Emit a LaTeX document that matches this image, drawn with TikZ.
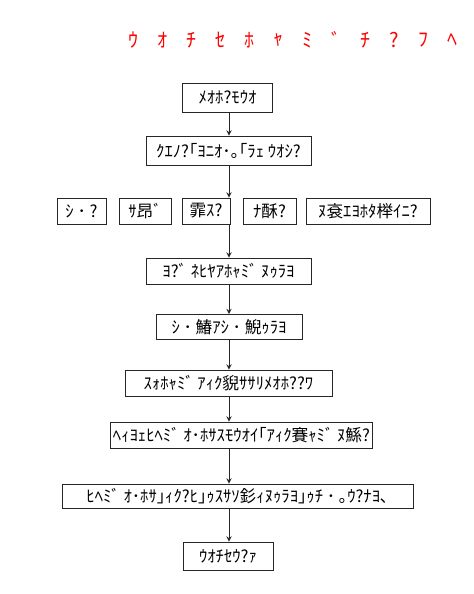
\documentclass[tikz,border=0pt]{standalone}
\usepackage{fontspec}
\newfontfamily\jpfont{Noto Sans CJK JP}

\tikzset{every picture/.style={line width=0.75pt}}
\tikzset{
  box/.style={draw=black!85, rectangle, inner sep=0pt, font=\jpfont\fontsize{12.5}{14}\selectfont},
  arr/.style={draw=black!85, -stealth}
}

\begin{document}
\begin{tikzpicture}[x=0.75pt,y=0.75pt,yscale=-1,xscale=1]
\useasboundingbox (0,0) rectangle (474,594);
\fill[white] (0,0) rectangle (474,594);

% title
\foreach \c [count=\i] in {ｳ,ｵ,ﾁ,ｾ,ﾎ,ｬ,ﾐ,ﾞ,ﾁ,?,ﾌ,ﾍ}
  \node (t\i) at (104+29*\i,40) [text=red, font=\jpfont\fontsize{15}{17}\selectfont] {\c};

\node (b1) at (227.5,97.5) [box, minimum width=67.5pt, minimum height=21.75pt] {ﾒｵﾎ?ﾓｳｵ};
\node (b2) at (228.5,150.5) [box, minimum width=123.75pt, minimum height=21.75pt] {ｸｴﾉ?｢ﾖﾆｵ･｡｢ﾗｪ ｳｵｼ?};

\node (ra) at (81.5,211) [box, minimum width=36.75pt, minimum height=19.5pt] {ｼ ･ ?};
\node (rb) at (145,211) [box, minimum width=39pt, minimum height=19.5pt] {ｻ昂ﾞ};
\node (rc) at (206,211) [box, minimum width=36pt, minimum height=19.5pt] {霏ｽ?};
\node (rd) at (269.5,211) [box, minimum width=39.75pt, minimum height=19.5pt] {ﾅ酥?};
\node (re) at (368,211) [box, minimum width=93pt, minimum height=19.5pt] {ﾇ袞ｴﾖﾎﾀ榉ｲﾆ?};

\node (b4) at (228.5,271) [box, minimum width=123.75pt, minimum height=19.5pt] {ﾖ?ﾞ ﾈﾋﾔｱﾎｬﾐﾞ ﾇｩﾗﾖ};
\node (b5) at (229,327) [box, minimum width=109.5pt, minimum height=18.75pt] {ｼ ･ 鰆ｱｼ ･ 鯢ｩﾗﾖ};
\node (b6) at (228.5,383) [box, minimum width=155.25pt, minimum height=19.5pt] {ｽｫﾎｬﾐﾞ ｱｨｸ貎ｻｻﾘﾒｵﾎ??ﾜ};
\node (b7) at (241.5,435) [box, minimum width=196.5pt, minimum height=19.5pt] {ﾍｨﾖｪﾋﾍﾐﾞ ｵ･ﾎｻｽﾓｳｵｲ｢ｱｨｸ賽ｬﾐﾞ ﾇ鯀?};
\node (b8) at (237.5,496) [box, minimum width=263.25pt, minimum height=18pt] {ﾋﾍﾐﾞ ｵ･ﾎｻ｣ｨｸ?ﾋ｣ｩｽｻｿ釤ｨﾇｩﾗﾖ｣ｩﾁ ･ ｡ｳ?ﾅﾖ､};
\node (b9) at (228,556) [box, minimum width=67.5pt, minimum height=21pt] {ｳｵﾁｾｳ?ｧ};

\coordinate (ax) at (229,0);
\draw [arr] (ax |- b1.south) -- (ax |- b2.north);
\draw [arr] (ax |- b2.south) -- (ax |- rc.north);
\draw [arr] (ax |- rc.south) -- (ax |- b4.north);
\draw [arr] (ax |- b4.south) -- (ax |- b5.north);
\draw [arr] (ax |- b5.south) -- (ax |- b6.north);
\draw [arr] (ax |- b6.south) -- (ax |- b7.north);
\draw [arr] (ax |- b7.south) -- (ax |- b8.north);
\draw [arr] (ax |- b8.south) -- (ax |- b9.north);

\end{tikzpicture}
\end{document}
